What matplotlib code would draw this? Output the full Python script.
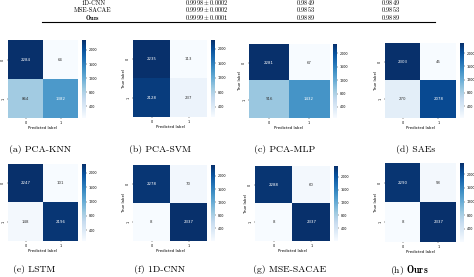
import numpy as np
import matplotlib
matplotlib.use("Agg")
import matplotlib.pyplot as plt

plt.rcParams["mathtext.fontset"] = "cm"

# table rows (bottom of a results table above the figure)
table_models = ["1D-CNN", "MSE-SACAE", "Ours"]
table_acc = ["0.9998 \\pm 0.0002", "0.9999 \\pm 0.0002", "0.9999 \\pm 0.0001"]
table_col3 = ["0.9849", "0.9853", "0.9889"]
table_col4 = ["0.9849", "0.9853", "0.9889"]

# confusion matrices
captions = ["(a) PCA-KNN", "(b) PCA-SVM", "(c) PCA-MLP", "(d) SAEs",
            "(e) LSTM", "(f) 1D-CNN", "(g) MSE-SACAE", "(h) Ours"]
cm_pca_knn = [[2284, 64], [864, 1382]]
cm_pca_svm = [[2235, 113], [2128, 237]]
cm_pca_mlp = [[2281, 67], [916, 1432]]
cm_saes = [[2303, 45], [270, 2078]]
cm_lstm = [[2247, 101], [148, 2196]]
cm_1dcnn = [[2278, 70], [8, 2337]]
cm_msesacae = [[2288, 60], [8, 2337]]
cm_ours = [[2290, 58], [8, 2337]]
matrices = [cm_pca_knn, cm_pca_svm, cm_pca_mlp, cm_saes,
            cm_lstm, cm_1dcnn, cm_msesacae, cm_ours]

W, H = 474, 277
fig = plt.figure(figsize=(W / 100, H / 100), dpi=100)


def box(x0, y0, x1, y1):
    return [x0 / W, 1 - y1 / H, (x1 - x0) / W, (y1 - y0) / H]


# --- table ---
row_y = [2.6, 9.9, 17.0]
fs = 4.5
for i in range(3):
    y = 1 - row_y[i] / H
    if table_models[i] == "Ours":
        fig.text(93 / W, y, r"$\mathbf{Ours}$", ha="center", va="center", fontsize=fs)
        fig.text(207 / W, y, r"$\mathbf{" + table_acc[i] + "}$", ha="center", va="center", fontsize=fs)
        fig.text(306 / W, y, r"$\mathbf{" + table_col3[i] + "}$", ha="center", va="center", fontsize=fs)
        fig.text(391 / W, y, r"$\mathbf{" + table_col4[i] + "}$", ha="center", va="center", fontsize=fs)
    else:
        fig.text(93 / W, y, table_models[i], ha="center", va="center", fontsize=fs, family="cmr10")
        fig.text(207 / W, y, r"$" + table_acc[i] + "$", ha="center", va="center", fontsize=fs)
        fig.text(306 / W, y, r"$" + table_col3[i] + "$", ha="center", va="center", fontsize=fs)
        fig.text(391 / W, y, r"$" + table_col4[i] + "$", ha="center", va="center", fontsize=fs)
fig.add_artist(plt.Line2D([42 / W, 435 / W], [1 - 22 / H, 1 - 22 / H], color="black", lw=0.8))

# --- heatmaps ---
boxes = [(8, 40, 78, 118), (133, 40, 207, 117), (249, 44, 329, 118), (385, 43, 456, 118),
         (8, 164, 78, 241), (133, 165, 207, 241), (255, 166, 330, 241), (385, 163, 456, 242)]
cap_x = [40, 160, 285, 416, 34, 159, 290, 409]
cap_y = [150, 150, 150, 150, 270, 270, 270, 270]

cmap = plt.get_cmap("Blues")
for k in range(8):
    m = np.array(matrices[k])
    x0, y0, x1, y1 = boxes[k]
    ax = fig.add_axes(box(x0, y0, x1, y1))
    im = ax.imshow(m, cmap=cmap, vmin=m.min(), vmax=m.max(), aspect="auto")
    mid = (m.min() + m.max()) / 2
    for r in range(2):
        for c in range(2):
            col = "white" if m[r, c] > mid else "#333333"
            ax.text(c, r, str(m[r, c]), ha="center", va="center", fontsize=2.8, color=col)
    ax.set_xticks([0, 1])
    ax.set_yticks([0, 1])
    ax.set_xticklabels(["0", "1"], fontsize=2.5)
    ax.set_yticklabels(["0", "1"], fontsize=2.5, rotation=90, va="center")
    ax.tick_params(length=1, width=0.3, pad=1)
    ax.set_xlabel("Predicted label", fontsize=2.8, labelpad=1)
    ax.set_ylabel("True label", fontsize=2.8, labelpad=0.5)
    for s in ax.spines.values():
        s.set_visible(False)

    cax = fig.add_axes(box(x1 + 4, y0, x1 + 8, y1))
    cb = fig.colorbar(im, cax=cax, ticks=[400, 800, 1200, 1600, 2000])
    cb.ax.tick_params(labelsize=2.4, length=1, width=0.3, pad=0.8)
    cb.outline.set_visible(False)

    cap = captions[k]
    if cap == "(h) Ours":
        fig.text(cap_x[k] / W, 1 - cap_y[k] / H, r"(h) $\mathbf{Ours}$",
                 ha="center", va="center", fontsize=7, family="cmr10")
    else:
        fig.text(cap_x[k] / W, 1 - cap_y[k] / H, cap,
                 ha="center", va="center", fontsize=7, family="cmr10")

fig.savefig("out.png", dpi=100)
